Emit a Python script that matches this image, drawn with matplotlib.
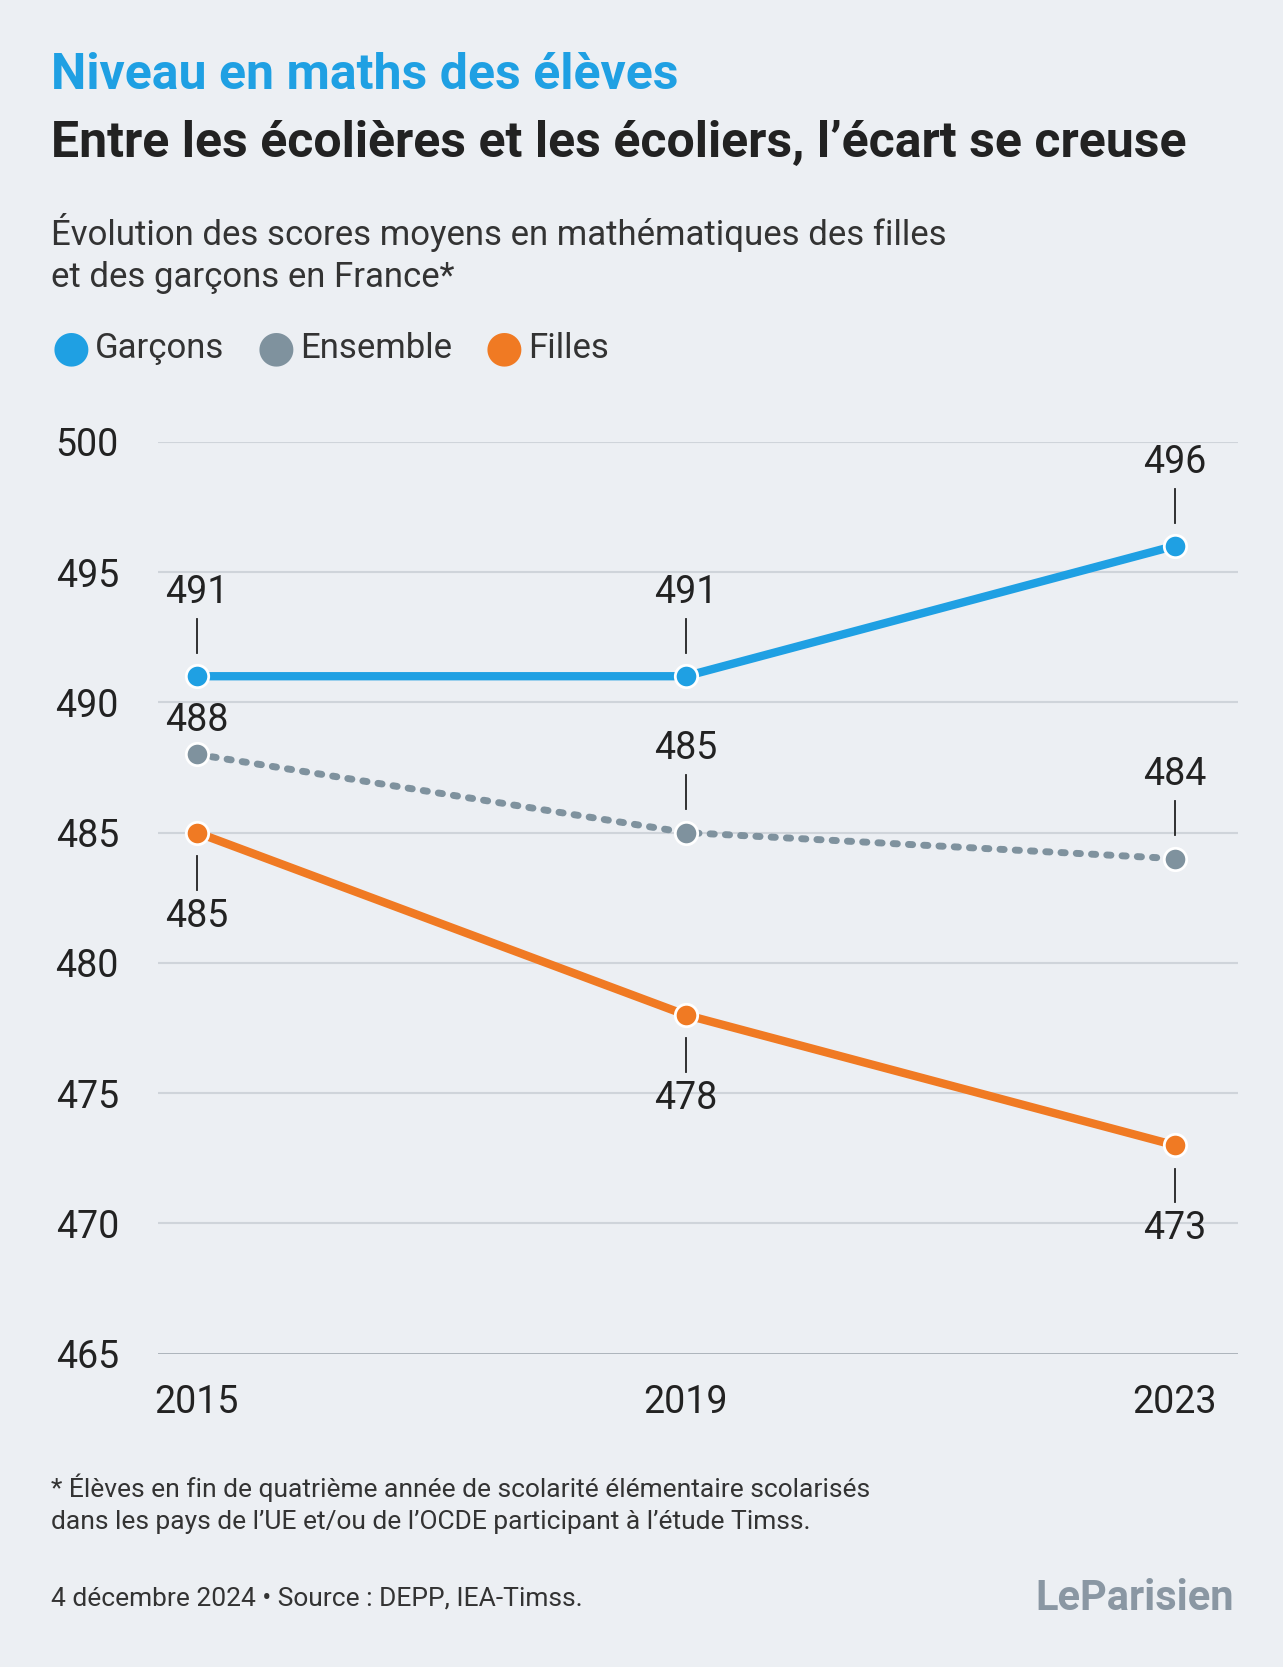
import matplotlib.pyplot as plt

years = [2015, 2019, 2023]
garcons = [491, 491, 496]
ensemble = [488, 485, 484]
filles = [485, 478, 473]
yticks = [465, 470, 475, 480, 485, 490, 495, 500]

BG = "#eceff3"
BLUE = "#1fa0e3"
GREY = "#7f929e"
ORANGE = "#f07a23"
DARK = "#222222"

plt.rcParams["font.family"] = ["Roboto", "DejaVu Sans"]

fig = plt.figure(figsize=(12.83, 16.67), dpi=100, facecolor=BG)
ax = fig.add_axes([0.123, 0.188, 0.842, 0.547], facecolor=BG)

for y in yticks[1:]:
    ax.axhline(y, color="#cfd4da", lw=1.5, zorder=0)
ax.axhline(465, color="#9aa3ab", lw=1.8, zorder=0)

ax.plot(years, garcons, color=BLUE, lw=6, solid_capstyle="round", zorder=2)
ax.plot(years, ensemble, color=GREY, lw=5, ls=(0, (0.6, 1.6)), dash_capstyle="round", zorder=2)
ax.plot(years, filles, color=ORANGE, lw=6, solid_capstyle="round", zorder=2)
for vals, c in [(garcons, BLUE), (ensemble, GREY), (filles, ORANGE)]:
    ax.scatter(years, vals, s=260, color=c, edgecolor="white", lw=2, zorder=3, clip_on=False)

def label(x, y, above, tick=True):
    s = 1 if above else -1
    if tick:
        ax.plot([x, x], [y + s * 0.9, y + s * 2.2], color=DARK, lw=1.3, zorder=1)
        ty = y + s * 2.5
    else:
        ty = y + s * 0.6
    ax.text(x, ty, f"{y}", ha="center", va="bottom" if above else "top",
            fontsize=27, color=DARK)

for x, v in zip(years, garcons):
    label(x, v, True)
label(2015, ensemble[0], True, tick=False)
label(2019, ensemble[1], True)
label(2023, ensemble[2], True)
for x, v in zip(years, filles):
    label(x, v, False)

ax.set_xlim(2014.68, 2023.52)
ax.set_ylim(465, 500)
ax.set_yticks(yticks)
ax.set_yticklabels([str(t) for t in yticks])
ax.set_xticks(years)
ax.tick_params(length=0, labelsize=27, labelcolor=DARK)
ax.tick_params(axis="y", pad=28)
ax.tick_params(axis="x", pad=22)
for sp in ax.spines.values():
    sp.set_visible(False)

fig.text(0.04, 0.955, "Niveau en maths des élèves", fontsize=36, fontweight="bold",
         color=BLUE, va="center")
fig.text(0.04, 0.914, "Entre les écolières et les écoliers, l’écart se creuse",
         fontsize=36, fontweight="bold", color=DARK, va="center")
fig.text(0.04, 0.848, "Évolution des scores moyens en mathématiques des filles\net des garçons en France*",
         fontsize=25, color="#333333", va="center", linespacing=1.35)

lx = 0.04
for name, c in [("Garçons", BLUE), ("Ensemble", GREY), ("Filles", ORANGE)]:
    fig.text(lx, 0.791, "●", fontsize=32, color=c, va="center")
    t = fig.text(lx + 0.034, 0.791, name, fontsize=25, color="#333333", va="center")
    fig.canvas.draw()
    bb = t.get_window_extent()
    lx = bb.x1 / fig.bbox.width + 0.025

fig.text(0.04, 0.098, "* Élèves en fin de quatrième année de scolarité élémentaire scolarisés\n"
         "dans les pays de l’UE et/ou de l’OCDE participant à l’étude Timss.",
         fontsize=19, color="#333333", va="center", linespacing=1.4)
fig.text(0.04, 0.041, "4 décembre 2024 • Source : DEPP, IEA-Timss.", fontsize=19,
         color="#333333", va="center")
fig.text(0.962, 0.041, "LeParisien", fontsize=30, fontweight="bold", color="#8a97a3",
         va="center", ha="right")

fig.savefig("out.png", dpi=100, facecolor=BG)
